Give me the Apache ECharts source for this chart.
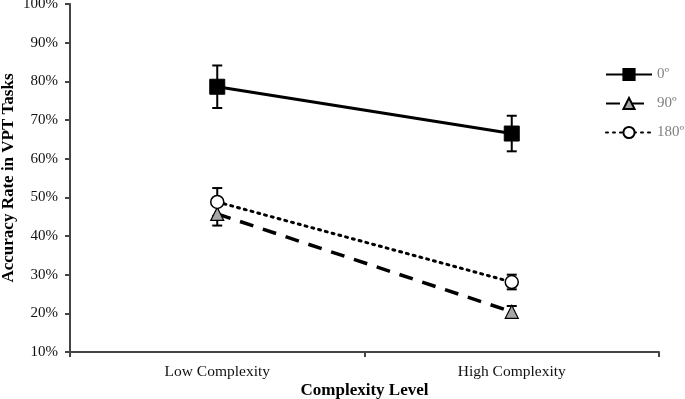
<!DOCTYPE html>
<html><head><meta charset="utf-8">
<script src="https://cdn.jsdelivr.net/npm/echarts@6/dist/echarts.min.js"></script>
<style>html,body{margin:0;padding:0;background:#fff}#c{width:685px;height:399px}</style>
</head><body><div id="c"></div>
<script>
const categories = ['Low Complexity', 'High Complexity'];
const seriesNames = ['0º', '90º', '180º'];
const values0 = [78.6, 66.5];
const err0 = [5.5, 4.6];
const values90 = [45.7, 20.4];
const err90 = [3.0, 1.5];
const values180 = [48.8, 28.1];
const err180 = [3.6, 1.9];
const yTicks = [10, 100, 10]; // min, max, interval

const F = 'Liberation Serif, Times New Roman, serif';

function errSeries(vals, errs, z) {
  return {
    type: 'custom', silent: true, z: z,
    data: vals.map((v, i) => [i, v - errs[i], v + errs[i]]),
    renderItem: function (params, api) {
      const lo = api.coord([api.value(0), api.value(1)]);
      const hi = api.coord([api.value(0), api.value(2)]);
      const w = 5;
      const st = { stroke: '#000', lineWidth: 2 };
      return { type: 'group', children: [
        { type: 'line', shape: { x1: lo[0], y1: lo[1], x2: hi[0], y2: hi[1] }, style: st },
        { type: 'line', shape: { x1: lo[0] - w, y1: lo[1], x2: lo[0] + w, y2: lo[1] }, style: st },
        { type: 'line', shape: { x1: hi[0] - w, y1: hi[1], x2: hi[0] + w, y2: hi[1] }, style: st }
      ]};
    }
  };
}

const chart = echarts.init(document.getElementById('c'));
chart.setOption({
  animation: false,
  grid: { left: 70, right: 26, top: 4, bottom: 47, containLabel: false, outerBoundsMode: 'none' },
  legend: {
    left: 605, top: 67, padding: 0, orient: 'vertical', itemGap: 14, itemWidth: 46, itemHeight: 14,
    textStyle: { fontFamily: F, fontSize: 15, color: '#808080' },
    data: seriesNames
  },
  xAxis: {
    type: 'category', data: categories, boundaryGap: true,
    axisLine: { lineStyle: { color: '#444', width: 2 } },
    axisTick: { show: true, length: 5, lineStyle: { color: '#444', width: 2 } },
    axisLabel: { fontFamily: F, fontSize: 15.5, color: '#111', margin: 12 },
    name: 'Complexity Level', nameLocation: 'middle', nameGap: 30, nameMoveOverlap: false,
    nameTextStyle: { fontFamily: F, fontSize: 17, fontWeight: 'bold', color: '#000' }
  },
  yAxis: {
    type: 'value', min: yTicks[0], max: yTicks[1], interval: yTicks[2],
    axisLine: { show: true, lineStyle: { color: '#444', width: 2 } },
    axisTick: { show: true, length: 5, lineStyle: { color: '#444', width: 2 } },
    splitLine: { show: false },
    axisLabel: { fontFamily: F, fontSize: 15, color: '#111', formatter: '{value}%', margin: 12 },
    name: 'Accuracy Rate in VPT Tasks', nameLocation: 'middle', nameGap: 53, nameMoveOverlap: false,
    nameTextStyle: { fontFamily: F, fontSize: 17, fontWeight: 'bold', color: '#000' }
  },
  series: [
    errSeries(values0, err0, 1),
    errSeries(values90, err90, 1),
    errSeries(values180, err180, 1),
    { name: seriesNames[0], type: 'line', data: values0, z: 3,
      symbol: 'rect', symbolSize: 15,
      lineStyle: { color: '#000', width: 3, type: 'solid' },
      itemStyle: { color: '#000', borderColor: '#000', borderWidth: 1 } },
    { name: seriesNames[1], type: 'line', data: values90, z: 3,
      symbol: 'triangle', symbolSize: 13,
      lineStyle: { color: '#000', width: 3.5, type: [14, 10] },
      itemStyle: { color: '#a6a6a6', borderColor: '#000', borderWidth: 1.2 } },
    { name: seriesNames[2], type: 'line', data: values180, z: 4,
      symbol: 'circle', symbolSize: 13,
      lineStyle: { color: '#000', width: 3, type: [2, 5], cap: 'round' },
      itemStyle: { color: '#fff', borderColor: '#000', borderWidth: 1.5 } }
  ]
});
</script></body></html>
